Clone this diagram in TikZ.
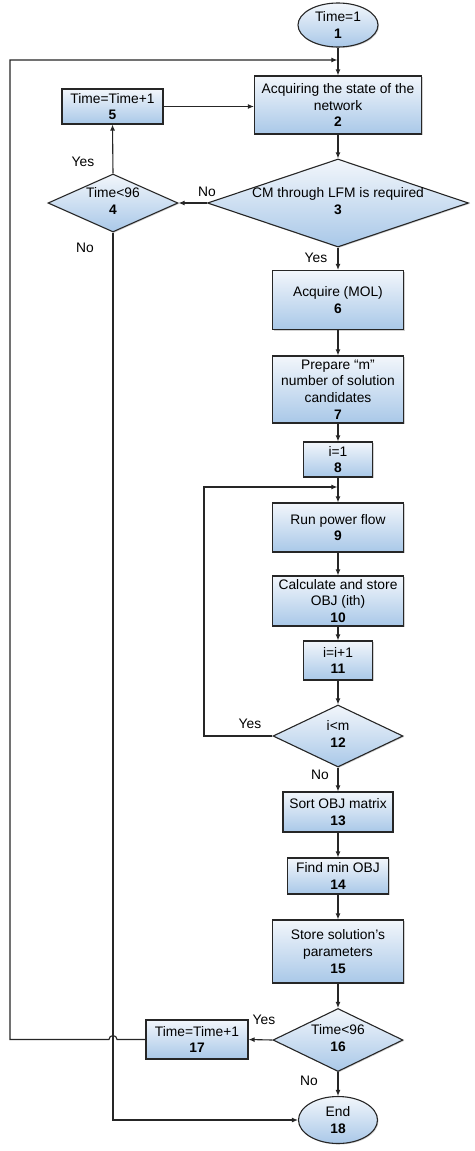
\documentclass[tikz,border=0pt]{standalone}
\usepackage{fontspec}
\setmainfont{Liberation Sans}
\usetikzlibrary{shapes.geometric,shadows,arrows.meta}
\definecolor{linec}{HTML}{262626}
\definecolor{topc}{HTML}{F2F6FB}
\definecolor{botc}{HTML}{A9C8E8}
\newcommand{\dtxt}[2]{\raisebox{-6.5pt}{\smash{\makebox[0pt]{\begin{tabular}{@{}c@{}}#1\\\textbf{#2}\end{tabular}}}}}
\tikzset{
  base/.style={draw=linec, line width=1.1pt, top color=topc, bottom color=botc,
    drop shadow={shadow xshift=1pt, shadow yshift=-1pt, opacity=0.18, fill=black},
    inner sep=0pt, align=center, font=\fontsize{13.8}{16.6}\selectfont},
  box/.style={base, rectangle},
  oval/.style={base, ellipse},
  dia/.style={base, diamond},
  lbl/.style={inner sep=0pt, font=\fontsize{13.8}{16.6}\selectfont},
  conn/.style={draw=linec, line width=1.1pt, -{Latex[length=6pt,width=5pt]}},
  plain/.style={draw=linec, line width=1.1pt}
}
\begin{document}
\begin{tikzpicture}[x=1pt,y=-1pt]
\useasboundingbox (0,0) rectangle (474,1151);
\node[oval, minimum width=80pt, minimum height=44pt] (n1) at (338,25) {Time=1\\\textbf{1}};
\node[box, minimum width=167pt, minimum height=58pt] (n2) at (338,105) {Acquiring the state of the\\network\\\textbf{2}};
\node[box, minimum width=101pt, minimum height=35pt] (n5) at (112.5,106.5) {Time=Time+1\\\textbf{5}};
\node[dia, minimum width=261pt, minimum height=88pt] (n3) at (338,203) {\dtxt{CM through LFM is required}{3}};
\node[dia, minimum width=130pt, minimum height=58pt] (n4) at (113,203) {\dtxt{Time<96}{4}};
\node[box, minimum width=131pt, minimum height=59pt] (n6) at (338,300) {Acquire (MOL)\\\textbf{6}};
\node[box, minimum width=131pt, minimum height=67pt] (n7) at (338,389.5) {Prepare “m”\\number of solution\\candidates\\\textbf{7}};
\node[box, minimum width=69pt, minimum height=35pt] (n8) at (338,459.5) {i=1\\\textbf{8}};
\node[box, minimum width=131pt, minimum height=49pt] (n9) at (338,527.5) {Run power flow\\\textbf{9}};
\node[box, minimum width=131pt, minimum height=50pt] (n10) at (338,601) {Calculate and store\\OBJ (ith)\\\textbf{10}};
\node[box, minimum width=69pt, minimum height=39pt] (n11) at (338,660.5) {i=i+1\\\textbf{11}};
\node[dia, minimum width=130pt, minimum height=62pt] (n12) at (338,736) {\dtxt{i<m}{12}};
\node[box, minimum width=110pt, minimum height=40pt] (n13) at (338,812) {Sort OBJ matrix\\\textbf{13}};
\node[box, minimum width=101pt, minimum height=36pt] (n14) at (338,876) {Find min OBJ\\\textbf{14}};
\node[box, minimum width=131pt, minimum height=63pt] (n15) at (338,951.5) {Store solution’s\\parameters\\\textbf{15}};
\node[dia, minimum width=130pt, minimum height=63pt] (n16) at (338,1040) {\dtxt{Time<96}{16}};
\node[box, minimum width=102pt, minimum height=39pt] (n17) at (197,1039.5) {Time=Time+1\\\textbf{17}};
\node[oval, minimum width=79pt, minimum height=47pt] (n18) at (338,1120) {End\\\textbf{18}};
% labels
\node[lbl] (l34) at (207,192) {No};
\node[lbl] (l45) at (83,162) {Yes};
\node[lbl] (l4d) at (85,248) {No};
\node[lbl] (l36) at (316,258) {Yes};
\node[lbl] (l12y) at (250,724) {Yes};
\node[lbl] (l12n) at (320,775) {No};
\node[lbl] (l16y) at (264,1020) {Yes};
\node[lbl] (l16n) at (309,1081) {No};
% junctions
\coordinate (j1) at (338,60);
\coordinate (j2) at (338,487);
\coordinate (c1) at (10,60);
\coordinate (c2) at (10,1040);
\coordinate (c3) at (204,736);
\coordinate (c4) at (204,487);
\coordinate (c5) at (113,1120);
% connectors
\draw[conn] (n1) -- (n2);
\draw[conn] (n5.east) -- (n5.east -| n2.west);
\draw[conn] (n2) -- (n3);
\draw[conn] (n3.west) -- (n4.east);
\draw[conn] (n4.north) -- (n5.south);
\draw[conn] (n4.south) -- (c5) -- (n18.west);
\draw[conn] (n3.south) -- (n6.north);
\draw[conn] (n6) -- (n7);
\draw[conn] (n7) -- (n8);
\draw[conn] (n8) -- (n9);
\draw[conn] (n9) -- (n10);
\draw[conn] (n10) -- (n11);
\draw[conn] (n11) -- (n12);
\draw[conn] (n12.south) -- (n13.north);
\draw[conn] (n12.west) -- (c3) -- (c4) -- ([xshift=-0.6pt]j2);
\draw[conn] (n13) -- (n14);
\draw[conn] (n14) -- (n15);
\draw[conn] (n15) -- (n16.north);
\draw[conn] (n16.west) -- (n17.east);
\draw[conn] (n16.south) -- (n18.north);
\draw[conn] (n17.west) -- (117,1039.5) arc[start angle=0, end angle=180, radius=4pt] -- (c2 |- n17.west) -- (c1) -- ([xshift=-0.6pt]j1);
\end{tikzpicture}
\end{document}
